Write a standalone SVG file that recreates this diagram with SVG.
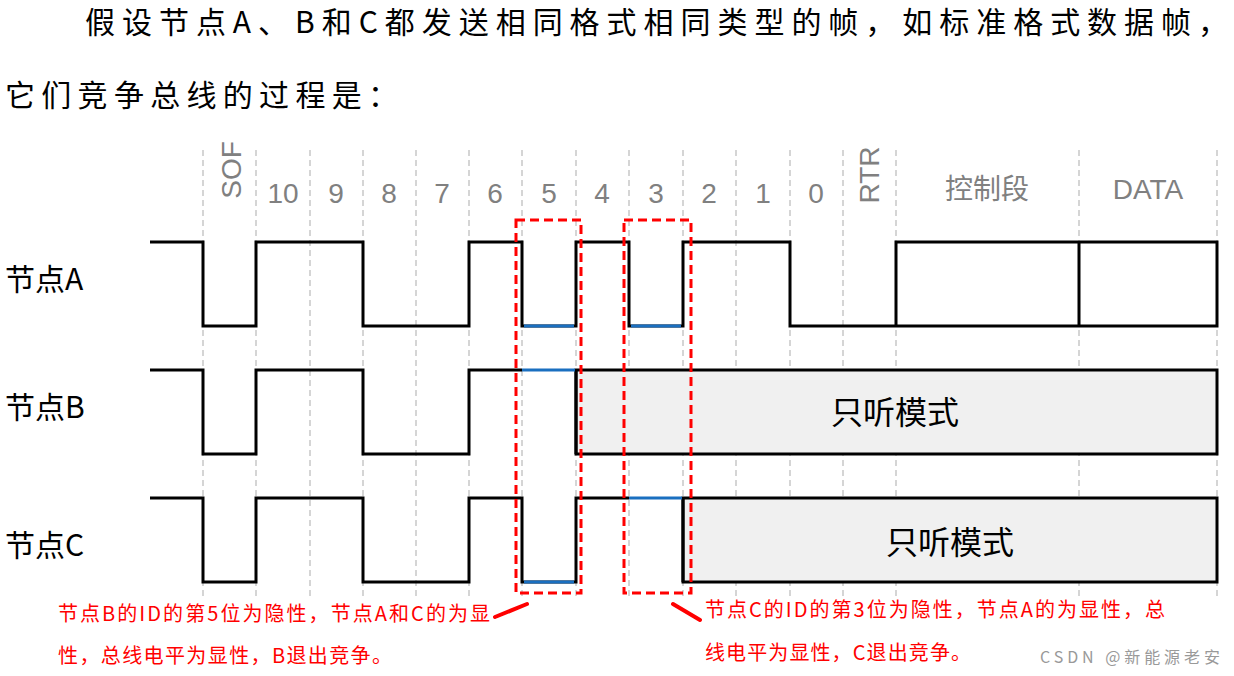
<svg xmlns="http://www.w3.org/2000/svg" width="1234" height="676" viewBox="0 0 1234 676">
<style>
.g{stroke:#c8c8c8;stroke-width:1.5;stroke-dasharray:6 4}
.w{fill:none;stroke:#000;stroke-width:3}
.b{stroke:#1a6fc0;stroke-width:3}
.r{fill:none;stroke:#f00;stroke-width:3;stroke-dasharray:9 5}
.bx{fill:#f0f0f0;stroke:#000;stroke-width:3}
.l{font-family:"Liberation Sans","Noto Sans CJK SC",sans-serif;fill:#808080;font-size:28px;text-anchor:middle}
.t{font-family:"Noto Sans CJK SC",sans-serif;fill:#000}
.rt{font-family:"Noto Sans CJK SC",sans-serif;fill:#f00;font-size:20px}
</style>
<rect width="1234" height="676" fill="#fff"/>
<text class="t" x="85" y="33" font-size="30" textLength="1143" lengthAdjust="spacing">假设节点A、B和C都发送相同格式相同类型的帧，如标准格式数据帧，</text>
<text class="t" x="5" y="106" font-size="30" textLength="393" lengthAdjust="spacing">它们竞争总线的过程是：</text>
<g id="grid">
<path class="g" d="M203 150V600M256 150V600M310 150V600M363 150V600M416 150V600M469 150V600M522 150V600M576 150V600M629 150V600M683 150V600M736 150V600M790 150V600M843 150V600M896 150V600M1079 150V600M1217 150V600"/>
</g>
<g id="labels">
<text class="l" transform="translate(241,170) rotate(-90)" text-anchor="middle">SOF</text>
<text class="l" x="283" y="203">10</text>
<text class="l" x="336" y="203">9</text>
<text class="l" x="389" y="203">8</text>
<text class="l" x="442" y="203">7</text>
<text class="l" x="495" y="203">6</text>
<text class="l" x="549" y="203">5</text>
<text class="l" x="602" y="203">4</text>
<text class="l" x="656" y="203">3</text>
<text class="l" x="709" y="203">2</text>
<text class="l" x="763" y="203">1</text>
<text class="l" x="816" y="203">0</text>
<text class="l" transform="translate(879,175) rotate(-90)">RTR</text>
<text class="l" x="987" y="199" font-size="27">控制段</text>
<text class="l" x="1148" y="199" font-size="27">DATA</text>
</g>
<g id="nodeA">
<text class="t" x="5" y="290" font-size="30">节点A</text>
<path class="w" d="M150 242H203V326H256V242H363V326H469V242H522V326H576V242H629V326H683V242H790V326H1217V242H896V326M1079 242V326"/>
<path class="b" d="M524 326H574M631 326H681"/>
</g>
<g id="nodeB">
<text class="t" x="5" y="418" font-size="30">节点B</text>
<rect class="bx" x="576" y="370" width="641" height="84"/>
<path class="w" d="M150 370H203V454H256V370H363V454H469V370H522M576 370V454"/>
<path class="b" d="M522 370H575"/>
<text class="t" x="895" y="424" font-size="32" text-anchor="middle">只听模式</text>
</g>
<g id="nodeC">
<text class="t" x="5" y="556" font-size="30">节点C</text>
<rect class="bx" x="683" y="498" width="534" height="84"/>
<path class="w" d="M150 498H203V582H256V498H363V582H469V498H522V582H576V498H629M683 498V582"/>
<path class="b" d="M524 582H574M629 498H682"/>
<text class="t" x="950" y="554" font-size="32" text-anchor="middle">只听模式</text>
</g>
<g id="connectors">
<rect class="r" x="516" y="220" width="65" height="373"/>
<rect class="r" x="624" y="220" width="67" height="373"/>
<path d="M495 617L527 604M673 604L700 620" stroke="#f00" stroke-width="4" stroke-linecap="round"/>
</g>
<g id="notes">
<text class="rt" x="58" y="621" textLength="432" lengthAdjust="spacing">节点B的ID的第5位为隐性，节点A和C的为显</text>
<text class="rt" x="58" y="663" textLength="334" lengthAdjust="spacing">性，总线电平为显性，B退出竞争。</text>
<text class="rt" x="705" y="617" textLength="460" lengthAdjust="spacing">节点C的ID的第3位为隐性，节点A的为显性，总</text>
<text class="rt" x="705" y="660" textLength="266" lengthAdjust="spacing">线电平为显性，C退出竞争。</text>
<text x="1040" y="663" font-family="Noto Sans CJK SC,sans-serif" font-size="16" fill="#999" textLength="180" lengthAdjust="spacing">CSDN @新能源老安</text>
</g>
</svg>
